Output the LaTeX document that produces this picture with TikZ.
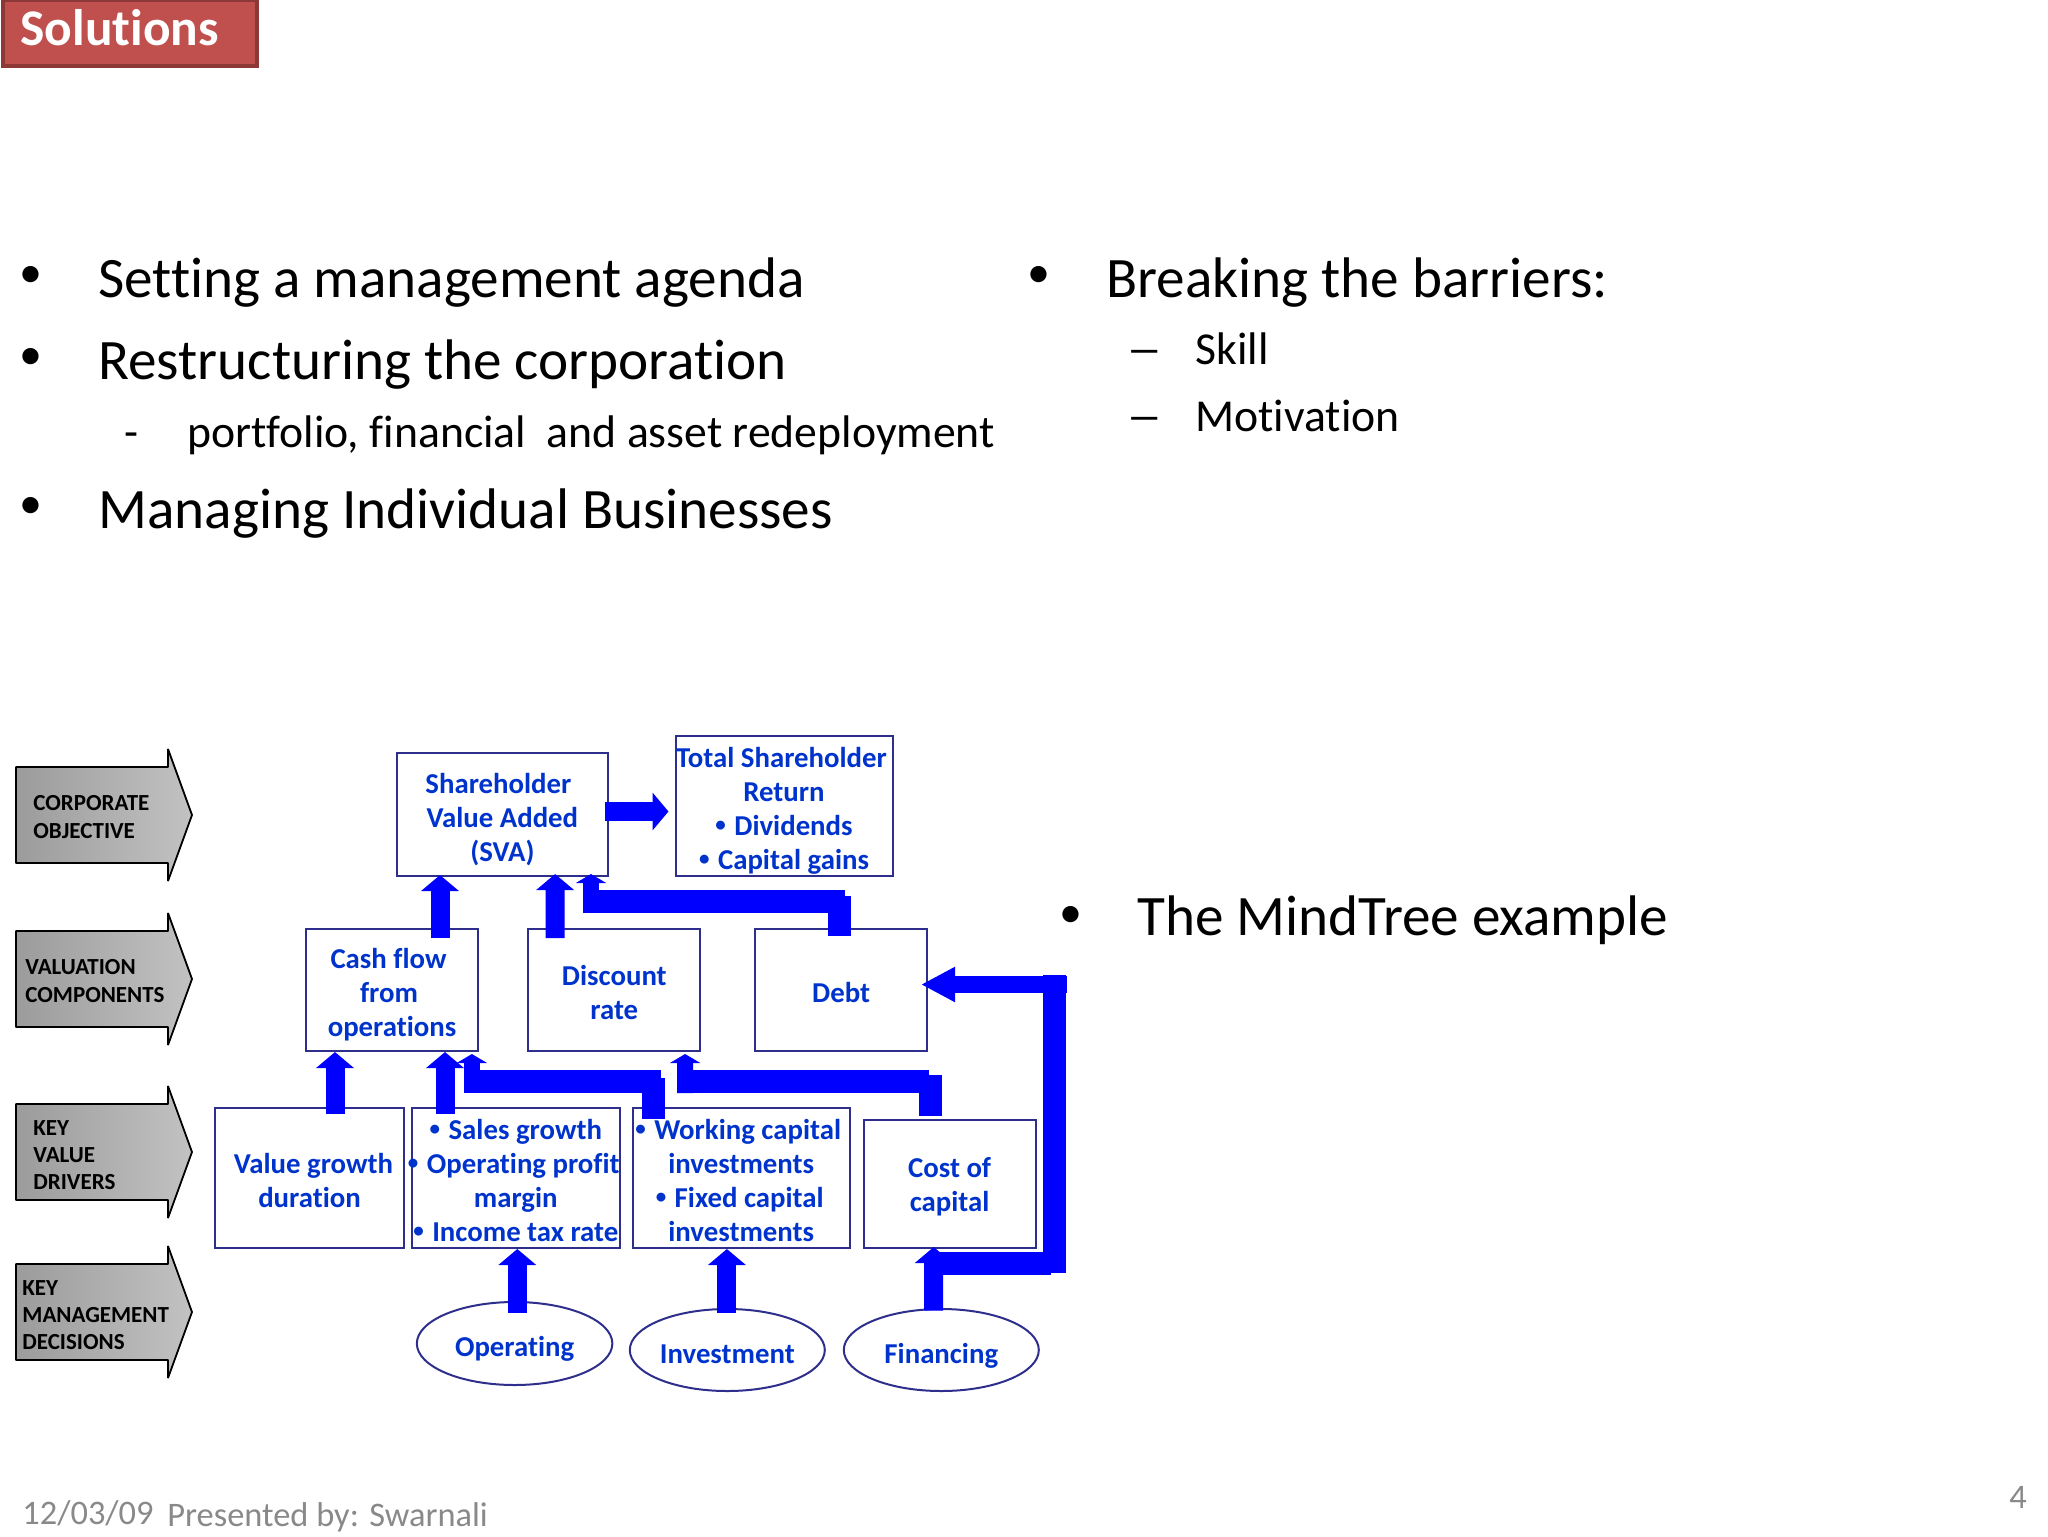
\documentclass[tikz,border=0pt]{standalone}
\usepackage{fontspec}
\usepackage{graphicx}
\setmainfont[Ligatures=NoCommon]{Carlito}
\usetikzlibrary{arrows.meta,shapes.geometric}

\definecolor{boxline}{HTML}{2E2E8C}
\definecolor{boxtext}{HTML}{0033CC}
\definecolor{flowblue}{HTML}{0000FF}
\definecolor{footgrey}{HTML}{898989}
\definecolor{titlefill}{HTML}{C0504D}
\definecolor{titleline}{HTML}{8C3836}

\newcommand{\bul}{\raisebox{2pt}{\fontsize{10.5}{12}\selectfont•}\hspace{1pt} }
\newcommand{\dn}[1]{\rule{0pt}{#1}}

\tikzset{
  box/.style={draw=boxline, line width=1pt, inner sep=0pt, align=center, text=boxtext,
    font=\bfseries\fontsize{14.4}{17}\selectfont},
  choice/.style={box, ellipse},
  chevron/.style={draw=black, line width=0.9pt, line join=bevel, left color=black!39, right color=black!24},
  chevlabel/.style={anchor=west, inner sep=0pt, align=left,
    font=\bfseries\fontsize{11.5}{13.6}\selectfont},
  bigtext/.style={anchor=base west, inner sep=0pt, font=\fontsize{28.6}{32}\selectfont},
  subtext/.style={anchor=base west, inner sep=0pt, font=\fontsize{22.85}{27}\selectfont},
  bullet/.style={anchor=base west, inner sep=0pt, font=\fontsize{23}{27}\selectfont},
  foottext/.style={anchor=base west, inner sep=0pt, text=footgrey, font=\fontsize{17.2}{20}\selectfont},
  uparrow/.style={draw=flowblue, line width=9.5pt, -{Triangle[length=8pt,width=18.5pt]}},
  band/.style={draw=flowblue, line width=11.5pt},
  bandhead/.style={draw=flowblue, line width=8pt, -{Triangle[length=4.5pt,width=15pt]}},
  debthead/.style={draw=flowblue, line width=8.5pt, -{Triangle[length=17pt,width=16.5pt]}},
}

\begin{document}
\begin{tikzpicture}[x=0.5pt, y=-0.5pt]
  \useasboundingbox (0, 0) rectangle (2048, 1536);

  % title
  \node[draw=titleline, fill=titlefill, line width=2pt, anchor=north west,
    minimum width=127pt, minimum height=33pt, inner sep=0pt] (title) at (1, -2) {};
  \node[anchor=base west, inner sep=0pt, text=white, font=\bfseries\fontsize{25.7}{30}\selectfont] (titletext) at (20, 46) {Solutions};

  % left column
  \node[bullet] (bula) at (19, 287) {•};
  \node[bigtext] (agenda) at (98, 297) {Setting a management agenda};
  \node[bullet] (bulb) at (19, 369) {•};
  \node[bigtext] (restructure) at (98, 379) {Restructuring the corporation};
  \node[subtext] (dasha) at (124, 447) {-};
  \node[subtext] (portfolio) at (187, 447) {portfolio, financial~ and asset redeployment};
  \node[bullet] (bulc) at (19, 518) {•};
  \node[bigtext] (managing) at (98, 528) {Managing Individual Businesses};

  % right column
  \node[bullet] (buld) at (1027, 287) {•};
  \node[bigtext] (barriers) at (1106, 297) {Breaking the barriers:};
  \node[subtext] (dashb) at (1126, 364) {\scalebox{1.6}[1]{–}};
  \node[subtext] (skill) at (1195, 364) {Skill};
  \node[subtext] (dashc) at (1126, 431) {\scalebox{1.6}[1]{–}};
  \node[subtext] (motivation) at (1195, 431) {Motivation};
  \node[bullet] (bule) at (1059, 927) {•};
  \node[bigtext] (mindtree) at (1137, 935) {The MindTree example};

  % level arrows
  \foreach \cy in {815, 979, 1152, 1312}
    \draw[chevron] (16, \cy-48) -- (168, \cy-48) -- (168, \cy-66) -- (192, \cy)
      -- (168, \cy+66) -- (168, \cy+48) -- (16, \cy+48) -- cycle;
  \node[chevlabel] (corp) at (33, 817) {CORPORATE\\OBJECTIVE};
  \node[chevlabel] (valu) at (25, 981) {VALUATION\\COMPONENTS};
  \node[chevlabel] (driv) at (33, 1155) {KEY\\VALUE\\DRIVERS};
  \node[chevlabel] (deci) at (22, 1315) {KEY\\MANAGEMENT\\DECISIONS};

  % boxes
  \node[box, minimum width=105.5pt, minimum height=61.5pt] (sva) at (502.4, 814.5) {\dn{15pt}Shareholder\kern4pt\\Value Added\\(SVA)};
  \node[box, minimum width=108.5pt, minimum height=70pt] (tsr) at (784, 806) {\dn{15pt}Total Shareholder\kern2.5pt\\Return\\\bul Dividends\\\bul Capital gains};
  \node[box, minimum width=86pt, minimum height=61pt] (cash) at (392, 990) {\dn{15.2pt}Cash flow\kern3.5pt\\from\kern3pt\\operations};
  \node[box, minimum width=86pt, minimum height=61pt] (disc) at (614.3, 990) {\dn{12.5pt}Discount\\rate};
  \node[box, minimum width=86pt, minimum height=61pt] (debt) at (841.2, 990) {\dn{12.5pt}Debt};
  \node[box, minimum width=94.5pt, minimum height=70pt] (growth) at (309.5, 1178) {\dn{12.5pt}\kern4pt Value growth\\duration};
  \node[box, minimum width=104pt, minimum height=70pt] (sales) at (515.8, 1178) {\dn{12.5pt}\bul Sales growth\\\kern-2pt\bul Operating profit\\margin\\\bul Income tax rate};
  \node[box, minimum width=108.5pt, minimum height=70pt] (work) at (741.2, 1178) {\dn{12.5pt}\bul Working capital\kern3pt\\investments\\\bul Fixed capital\kern1.5pt\\investments};
  \node[box, minimum width=86pt, minimum height=64pt] (cost) at (949.6, 1184) {\dn{13pt}Cost of\\capital};
  \node[choice, minimum width=97.75pt, minimum height=41.5pt] (oper) at (514.6, 1343.5) {\dn{15pt}Operating};
  \node[choice, minimum width=97.5pt, minimum height=41pt] (inve) at (727.3, 1350) {\dn{14pt}Investment};
  \node[choice, minimum width=97.5pt, minimum height=41pt] (fina) at (941.3, 1350) {\dn{16pt}Financing};

  % straight flows
  \draw[uparrow] ([shift={(25.5,7)}]growth.north) -- ([shift={(-57,0)}]cash.south);
  \draw[uparrow] ([shift={(-70.8,7)}]sales.north) -- ([shift={(53,0)}]cash.south);
  \draw[uparrow] ([shift={(48,10)}]cash.north) -- ([shift={(-62.4,-2)}]sva.south);
  \draw[uparrow] ([shift={(-59.2,10)}]disc.north) -- ([shift={(52.7,-3)}]sva.south);
  \draw[uparrow] ([shift={(-4,-3)}]sva.east) -- ([shift={(-6,5.5)}]tsr.west);
  \draw[uparrow] ([shift={(2.7,12)}]oper.north) -- ([shift={(1.5,0)}]sales.south);
  \draw[uparrow] ([shift={(-0.4,5)}]inve.north) -- ([shift={(-14.3,0)}]work.south);
  \draw[uparrow] ([shift={(-7.6,2.5)}]fina.north) -- ([shift={(-15.9,-2)}]cost.south);

  % bent flows
  \draw[band] ([shift={(-2,8)}]debt.north) -- ++(0,-40) ++(6,5.5) -- ++(-262.2,0);
  \draw[bandhead] ([shift={(-250.2,-15)}]debt.north) -- ([shift={(88.6,-3)}]sva.south);
  \draw[band] ([shift={(-87.6,12)}]work.north) -- ++(0,-41) ++(7.4,3.5) -- ++(-197.4,0);
  \draw[bandhead] ([shift={(-269.3,-14)}]work.north) -- ([shift={(79.9,2)}]cash.south);
  \draw[band] ([shift={(-18.9,-3)}]cost.north) -- ++(0,-41) ++(-1.5,6.5) -- ++(-252.2,0);
  \draw[bandhead] ([shift={(-264.5,-26)}]cost.north) -- ([shift={(70.8,2)}]disc.south);
  \draw[band] ([shift={(-7.6,-44.5)}]fina.north) -- ++(117.2,0) ++(4,9.5) -- ++(0,-298);
  \draw[debthead] ([shift={(138.7,-5.5)}]debt.east) -- ([shift={(-7.1,-5.5)}]debt.east);

  % footer
  \node[foottext] (datetext) at (22, 1524) {12/03/09};
  \node[foottext] (presenter) at (167, 1526) {Presented by: Swarnali};
  \node[foottext] (pagenum) at (2009, 1508) {4};
\end{tikzpicture}
\end{document}
